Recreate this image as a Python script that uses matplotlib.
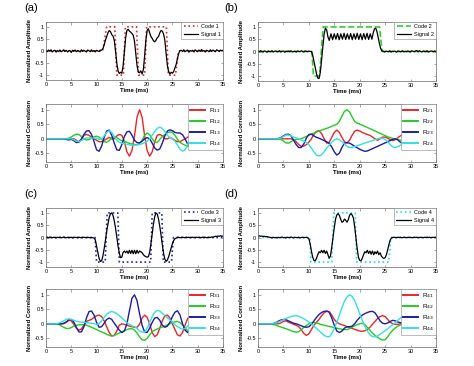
import numpy as np
import matplotlib
matplotlib.use('Agg')
import matplotlib.pyplot as plt

plt.rcParams['font.family'] = ['Liberation Sans', 'DejaVu Sans']

# ---------------- data ----------------
# codes (time in ms, amplitude)
code1_t = [0, 11.2, 12.0, 13.6, 14.0, 15.3, 15.7, 17.9, 18.3, 19.5, 19.9, 23.8, 24.2, 25.6, 26.2, 35]
code1_v = [0, 0, 1, 1, -1, -1, 1, 1, -1, -1, 1, 1, -1, -1, 0, 0]
code2_t = [0, 10.6, 10.9, 12.1, 12.8, 23.9, 24.4, 35]
code2_v = [0, 0, -1, -1, 1, 1, 0, 0]
code3_t = [0, 9.7, 10.0, 11.7, 12.1, 14.2, 14.5, 20.7, 21.0, 22.9, 23.2, 24.8, 25.2, 35]
code3_v = [0, 0, -1, -1, 1, 1, -1, -1, 1, 1, -1, -1, 0, 0]
code4_t = [0, 10.2, 10.4, 14.5, 14.9, 19.1, 19.4, 25.7, 26.1, 35]
code4_v = [0, 0, -1, -1, 1, 1, -1, -1, 0, 0]

# received signals, as segments (t_start, t_end, values)
sig1 = [
    (0, 10.75, [0.02, -0.03, 0.04, -0.01, 0.05, -0.04, 0.01, 0.03, -0.05, 0.02,
                -0.02, 0.04, -0.03, 0.0, 0.05, -0.02, 0.03, -0.04, 0.01, 0.02,
                -0.06, 0.03, -0.01, 0.04, -0.03, 0.02, 0.0, -0.04, 0.05, -0.02,
                0.03, -0.01, -0.04, 0.04, 0.01, -0.03, 0.05, -0.02, 0.02, -0.04,
                0.03, 0.0, -0.02, 0.04]),
    (11, 26.5, [0.03, 0.1, 0.25, 0.45, 0.6, 0.75, 0.85, 0.8, 0.68, 0.62,
                0.45, 0.0, -0.5, -0.82, -0.93, -0.88, -0.92, -0.6, 0.0, 0.55,
                0.85, 0.9, 0.82, 0.78, 0.72, 0.65, 0.4, -0.1, -0.6, -0.88,
                -0.9, -0.82, -0.95, -0.78, -0.2, 0.45, 0.85, 0.92, 0.75, 0.6,
                0.52, 0.42, 0.38, 0.45, 0.55, 0.6, 0.75, 0.85, 0.82, 0.7,
                0.45, -0.1, -0.6, -0.85, -0.95, -0.88, -0.92, -0.85, -0.7, -0.55,
                -0.3, -0.1, 0.02]),
    (26.75, 35, [0.03, -0.02, 0.05, -0.03, 0.01, 0.04, -0.05, 0.02, -0.01, 0.03,
                 -0.04, 0.05, 0.0, -0.03, 0.04, -0.02, 0.06, -0.01, 0.02, -0.04,
                 0.03, 0.01, -0.03, 0.05, -0.02, 0.04, 0.0, -0.03, 0.05, 0.02,
                 -0.02, 0.04, 0.01, 0.03]),
]
sig2 = [
    (0, 10.25, [0.02, -0.01, 0.03, 0.0, -0.02, 0.02, 0.01, -0.03, 0.02, 0.0,
                -0.01, 0.03, -0.02, 0.01, 0.02, -0.01, 0.0, 0.03, -0.02, 0.01,
                0.02, -0.03, 0.01, 0.0, 0.02, -0.01, 0.03, -0.02, 0.0, 0.01,
                -0.02, 0.02, 0.01, -0.01, 0.03, 0.0, -0.02, 0.02, 0.01, -0.01,
                0.02, 0.0]),
    (10.5, 14.0, [0.0, -0.15, -0.4, -0.65, -0.9, -1.08, -1.1, -0.85, -0.35, 0.2,
                  0.7, 0.95, 0.88, 0.6, 0.45]),
    (14.35, 22.4, [0.72, 0.48, 0.72, 0.5, 0.73, 0.48, 0.72, 0.5, 0.74, 0.49,
                   0.72, 0.5, 0.73, 0.48, 0.72, 0.5, 0.74, 0.49, 0.72, 0.48,
                   0.73, 0.5, 0.74, 0.49, 0.72, 0.5]),
    (22.65, 24.4, [0.75, 0.92, 0.95, 0.8, 0.55, 0.3, 0.1, 0.02]),
    (24.65, 35, [0.01, -0.02, 0.02, 0.0, -0.01, 0.03, -0.02, 0.01, 0.0, 0.02,
                 -0.03, 0.01, 0.02, -0.01, 0.0, 0.03, -0.02, 0.01, -0.01, 0.02,
                 0.0, -0.02, 0.03, 0.01, -0.01, 0.02, 0.04, -0.01, 0.03, 0.0,
                 -0.02, 0.02, 0.01, -0.01, 0.03, -0.02, 0.0, 0.02, 0.01, -0.01,
                 0.02, 0.0]),
]
sig3 = [
    (0, 9.25, [0.0, 0.01, -0.01, 0.02, 0.0, -0.01, 0.01, 0.0, -0.02, 0.01,
               0.0, 0.01, -0.01, 0.0, 0.02, 0.0, -0.01, 0.01, -0.01, 0.0,
               0.01, -0.02, 0.0, 0.01, 0.0, -0.01, 0.01, 0.0, -0.01, 0.0,
               0.01, 0.0, -0.01, 0.01, 0.0, -0.01, 0.0, -0.01]),
    (9.5, 25.75, [-0.02, -0.1, -0.35, -0.62, -0.85, -0.97, -0.95, -0.75, -0.45, -0.12,
                  0.25, 0.55, 0.82, 0.97, 1.0, 0.9, 0.68, 0.38, 0.02, -0.35,
                  -0.65, -0.82, -0.8, -0.6, -0.55, -0.62, -0.55, -0.65, -0.52, -0.65,
                  -0.52, -0.66, -0.52, -0.66, -0.52, -0.64, -0.55, -0.58, -0.62, -0.7,
                  -0.75, -0.78, -0.8, -0.78, -0.6, -0.25, 0.15, 0.55, 0.85, 1.0,
                  0.95, 0.75, 0.45, 0.1, -0.3, -0.65, -0.88, -0.97, -0.92, -0.78,
                  -0.6, -0.42, -0.25, -0.12, -0.05, -0.02]),
    (26, 35, [0.0, 0.01, -0.01, 0.0, 0.01, 0.0, -0.01, 0.01, 0.0, 0.01,
              -0.01, 0.0, 0.01, 0.0, -0.01, 0.01, 0.0, 0.01, -0.01, 0.0,
              0.01, 0.0, 0.01, -0.01, 0.0, 0.01, 0.0, 0.02, 0.01, 0.03,
              0.05, 0.04, 0.06, 0.05, 0.07, 0.05, 0.06]),
]
sig4 = [
    (0, 9.75, [0.06, 0.07, 0.05, 0.06, 0.04, 0.05, 0.03, 0.04, 0.02, 0.01,
               0.0, -0.02, 0.01, -0.01, 0.0, -0.02, 0.01, -0.01, 0.0, 0.02,
               -0.01, 0.0, -0.02, 0.01, 0.0, -0.01, 0.02, 0.0, -0.02, 0.01,
               0.0, -0.01, 0.01, -0.02, 0.0, 0.01, -0.01, 0.0, 0.01, -0.01]),
    (10, 26.5, [-0.05, -0.25, -0.55, -0.8, -0.93, -0.95, -0.85, -0.7, -0.58, -0.62,
                -0.52, -0.62, -0.52, -0.65, -0.55, -0.7, -0.85, -0.75, -0.4, 0.0,
                0.4, 0.75, 0.92, 0.97, 0.9, 0.75, 0.62, 0.65, 0.75, 0.7,
                0.62, 0.72, 0.9, 0.97, 0.92, 0.8, 0.45, 0.0, -0.45, -0.8,
                -0.93, -0.95, -0.85, -0.7, -0.58, -0.62, -0.52, -0.65, -0.55, -0.68,
                -0.55, -0.7, -0.58, -0.66, -0.55, -0.7, -0.62, -0.75, -0.82, -0.85,
                -0.82, -0.7, -0.5, -0.28, -0.1, -0.02, 0.0]),
    (26.75, 35, [0.01, 0.0, -0.01, 0.01, 0.0, 0.01, -0.01, 0.0, 0.01, 0.0,
                 -0.01, 0.01, 0.0, 0.01, -0.01, 0.0, 0.01, 0.0, 0.01, -0.01,
                 0.0, 0.01, 0.0, -0.01, 0.01, 0.0, 0.01, 0.0, 0.01, -0.01,
                 0.0, 0.01, 0.0, 0.01]),
]

# normalized correlations, sampled every 0.5 ms between (t_start, t_end)
R11 = (5.5, 32.5, [0, -0.05, -0.1, 0.0, 0.12, 0.15, 0.12, 0.05, 0, -0.05,
                   -0.1, -0.1, -0.05, 0, 0.05, 0.0, 0.0, 0.1, 0.15, 0.12,
                   -0.1, -0.45, -0.6, -0.4, 0.1, 0.75, 1.0, 0.75, 0.1, -0.4,
                   -0.6, -0.45, -0.1, 0.12, 0.15, 0.1, 0.0, 0.0, 0.05, 0.0,
                   -0.05, -0.1, -0.1, -0.05, 0, 0.05, 0.15, 0.2, 0.15, 0.0,
                   -0.12, -0.15, -0.1, -0.05, 0])
R12 = (4, 31, [0, 0.02, 0.06, 0.12, 0.16, 0.15, 0.08, 0.0, -0.04, -0.03,
               0.02, 0.07, 0.09, 0.06, -0.02, -0.1, -0.12, -0.06, 0.03, 0.07,
               0.04, -0.02, -0.07, -0.09, -0.12, -0.16, -0.18, -0.2, -0.2, -0.17,
               -0.05, 0.12, 0.2, 0.14, 0.0, -0.12, -0.12, -0.02, 0.08, 0.15,
               0.2, 0.24, 0.22, 0.12, -0.02, -0.12, -0.18, -0.22, -0.26, -0.28,
               -0.25, -0.18, -0.1, -0.04, 0])
R13 = (3.5, 31, [0, -0.02, -0.04, -0.02, -0.06, -0.13, -0.12, -0.02, 0.15, 0.27,
                 0.28, 0.15, -0.1, -0.38, -0.43, -0.25, 0.05, 0.27, 0.3, 0.12,
                 -0.15, -0.38, -0.4, -0.2, 0.08, 0.24, 0.26, 0.12, -0.05, -0.13,
                 -0.14, -0.08, 0.0, 0.04, 0.0, -0.15, -0.32, -0.39, -0.35, -0.15,
                 0.1, 0.27, 0.31, 0.28, 0.22, 0.2, 0.2, 0.14, 0.0, -0.18,
                 -0.32, -0.35, -0.22, -0.05, 0.0, 0])
R14 = (5, 31.5, [0, -0.03, -0.08, -0.1, -0.06, 0.0, 0.03, 0.03, 0.02, 0.03,
                 0.02, -0.02, 0.0, 0.1, 0.22, 0.28, 0.22, 0.08, -0.05, -0.12,
                 -0.15, -0.17, -0.19, -0.21, -0.22, -0.22, -0.21, -0.2, -0.17, -0.13,
                 -0.08, 0.0, 0.12, 0.26, 0.36, 0.4, 0.36, 0.25, 0.12, 0.04,
                 0.0, -0.08, -0.22, -0.36, -0.43, -0.38, -0.2, -0.05, 0.05, 0.1,
                 0.08, 0.03, 0.0, 0])

R21 = (6.5, 31, [0, -0.03, -0.1, -0.2, -0.26, -0.25, -0.2, -0.12, 0.0, 0.15,
                 0.26, 0.28, 0.18, 0.0, -0.15, -0.12, 0.05, 0.22, 0.3, 0.22,
                 0.05, -0.1, -0.15, -0.05, 0.12, 0.26, 0.3, 0.27, 0.22, 0.18,
                 0.15, 0.12, 0.06, 0.0, -0.05, 0.0, 0.06, 0.06, 0.02, -0.03,
                 -0.06, -0.03, 0.04, 0.1, 0.14, 0.15, 0.15, 0.1, 0.05, 0])
R22 = (4, 30, [0, -0.02, -0.08, -0.14, -0.15, -0.1, -0.04, -0.02, -0.02, 0.0,
               0.04, 0.08, 0.12, 0.16, 0.2, 0.24, 0.27, 0.3, 0.33, 0.36,
               0.39, 0.43, 0.47, 0.5, 0.6, 0.78, 0.95, 1.0, 0.93, 0.76,
               0.6, 0.54, 0.51, 0.47, 0.43, 0.39, 0.35, 0.31, 0.27, 0.23,
               0.19, 0.15, 0.11, 0.07, 0.04, 0.01, 0.0, -0.02, -0.05, -0.08,
               -0.08, -0.05, 0])
R23 = (3.5, 30.5, [0, 0.01, 0.04, 0.1, 0.15, 0.16, 0.1, -0.05, -0.2, -0.3,
                   -0.3, -0.18, 0.02, 0.15, 0.16, 0.1, 0.05, 0.02, -0.02, -0.06,
                   -0.1, -0.16, -0.28, -0.45, -0.56, -0.5, -0.3, -0.15, -0.13, -0.15,
                   -0.2, -0.26, -0.31, -0.36, -0.4, -0.43, -0.42, -0.38, -0.34, -0.3,
                   -0.26, -0.22, -0.18, -0.14, -0.1, -0.06, -0.02, 0.0, -0.04, -0.12,
                   -0.16, -0.14, -0.08, -0.03, 0])
R24 = (4, 31, [0, 0.02, 0.08, 0.13, 0.13, 0.1, 0.06, 0.03, 0.0, -0.04,
               -0.08, -0.12, -0.2, -0.32, -0.45, -0.56, -0.59, -0.55, -0.45, -0.32,
               -0.22, -0.12, -0.04, 0.0, -0.03, -0.1, -0.18, -0.26, -0.3, -0.3,
               -0.27, -0.24, -0.21, -0.18, -0.15, -0.12, -0.09, -0.06, -0.03, 0.0,
               0.02, 0.02, -0.02, -0.1, -0.2, -0.28, -0.3, -0.27, -0.22, -0.18,
               -0.14, -0.1, -0.06, -0.03, 0])

R31 = (3.5, 32.5, [0.0, 0.05, 0.12, 0.1, -0.02, -0.15, -0.22, -0.18, -0.05, 0.08,
                   0.12, 0.15, 0.22, 0.28, 0.3, 0.25, 0.1, -0.1, -0.3, -0.42,
                   -0.4, -0.25, -0.05, 0.0, -0.02, -0.05, -0.08, -0.1, -0.12, -0.12,
                   -0.02, 0.2, 0.3, 0.22, 0.0, -0.3, -0.44, -0.38, -0.15, 0.1,
                   0.28, 0.3, 0.2, 0.0, -0.2, -0.38, -0.42, -0.3, -0.05, 0.18,
                   0.27, 0.22, 0.08, -0.05, -0.13, -0.14, -0.1, -0.04, 0])
R32 = (2, 31, [0, -0.02, -0.07, -0.12, -0.16, -0.16, -0.13, -0.08, -0.05, -0.04,
               -0.03, -0.03, -0.05, -0.08, -0.12, -0.16, -0.2, -0.24, -0.28, -0.32,
               -0.36, -0.4, -0.42, -0.4, -0.36, -0.32, -0.28, -0.24, -0.2, -0.17,
               -0.17, -0.22, -0.32, -0.45, -0.55, -0.57, -0.5, -0.38, -0.27, -0.22,
               -0.18, -0.14, -0.11, -0.08, -0.04, 0.0, 0.04, 0.07, 0.08, 0.04,
               -0.04, -0.14, -0.24, -0.3, -0.28, -0.18, -0.08, -0.02, 0])
R33 = (3, 32, [0, 0.02, 0.06, 0.14, 0.15, 0.06, -0.12, -0.28, -0.28, -0.1,
               0.2, 0.42, 0.44, 0.3, 0.05, -0.12, -0.1, 0.02, 0.15, 0.2,
               0.15, 0.02, -0.1, -0.22, -0.3, -0.25, 0.0, 0.45, 0.88, 1.0,
               0.8, 0.35, -0.05, -0.28, -0.3, -0.15, 0.05, 0.2, 0.22, 0.12,
               -0.05, -0.12, -0.08, 0.05, 0.25, 0.4, 0.45, 0.3, 0.0, -0.22,
               -0.3, -0.22, -0.05, 0.1, 0.15, 0.1, 0.04, 0.02, 0])
R34 = (2, 31, [0, 0.02, 0.06, 0.1, 0.15, 0.17, 0.15, 0.12, 0.09, 0.07,
               0.06, 0.05, 0.04, 0.03, 0.02, 0.0, -0.02, 0.0, 0.1, 0.22,
               0.33, 0.4, 0.42, 0.4, 0.35, 0.28, 0.2, 0.12, 0.04, -0.02,
               -0.07, -0.1, -0.16, -0.24, -0.29, -0.28, -0.15, 0.05, 0.25, 0.4,
               0.46, 0.44, 0.36, 0.28, 0.2, 0.14, 0.06, -0.03, -0.1, -0.15,
               -0.18, -0.16, -0.08, 0.0, 0.05, 0.06, 0.05, 0.03, 0])

R41 = (4, 33, [0, 0.03, 0.08, 0.1, 0.06, 0.02, -0.02, -0.05, -0.1, -0.2,
               -0.33, -0.4, -0.35, -0.2, -0.05, 0.05, 0.15, 0.28, 0.38, 0.43,
               0.42, 0.3, 0.15, 0.05, 0.0, -0.03, -0.06, -0.1, -0.13, -0.16,
               -0.19, -0.22, -0.25, -0.26, -0.24, -0.2, -0.12, -0.02, 0.08, 0.18,
               0.25, 0.28, 0.25, 0.15, 0.05, 0.0, -0.02, -0.02, 0.0, 0.02,
               0.02, 0.0, -0.03, -0.08, -0.12, -0.12, -0.08, -0.03, 0])
R42 = (2.5, 29, [0, -0.02, -0.05, -0.08, -0.11, -0.14, -0.17, -0.2, -0.24, -0.27,
                 -0.29, -0.27, -0.2, -0.13, -0.06, 0.0, 0.03, 0.05, 0.03, 0.0,
                 -0.03, -0.05, -0.07, -0.09, -0.11, -0.13, -0.15, -0.17, -0.19, -0.2,
                 -0.2, -0.17, -0.12, -0.07, -0.03, 0.0, 0.02, -0.03, -0.12, -0.22,
                 -0.32, -0.4, -0.47, -0.52, -0.56, -0.55, -0.45, -0.32, -0.22, -0.14,
                 -0.08, -0.04, -0.01, 0])
R43 = (2.5, 30, [0, 0.01, 0.04, 0.09, 0.13, 0.15, 0.14, 0.1, 0.06, 0.02,
                 0.0, -0.03, -0.07, -0.1, -0.12, -0.1, -0.02, 0.1, 0.22, 0.32,
                 0.39, 0.43, 0.44, 0.4, 0.2, -0.05, -0.25, -0.3, -0.25, -0.15,
                 -0.1, -0.1, -0.08, 0.0, 0.12, 0.22, 0.3, 0.35, 0.39, 0.42,
                 0.43, 0.38, 0.25, 0.1, 0.02, 0.0, 0.03, 0.08, 0.12, 0.1,
                 0.06, 0.04, 0.04, 0.02, 0.0, 0])
R44 = (2.5, 33, [0, 0.01, 0.03, 0.06, 0.1, 0.14, 0.18, 0.22, 0.25, 0.27,
                 0.28, 0.26, 0.22, 0.17, 0.12, 0.06, 0.0, -0.08, -0.16, -0.24,
                 -0.32, -0.4, -0.44, -0.45, -0.35, -0.15, 0.05, 0.3, 0.55, 0.78,
                 0.93, 1.0, 0.95, 0.8, 0.58, 0.35, 0.12, -0.08, -0.25, -0.38,
                 -0.44, -0.45, -0.42, -0.36, -0.3, -0.24, -0.17, -0.1, -0.03, 0.04,
                 0.12, 0.2, 0.25, 0.28, 0.27, 0.24, 0.18, 0.12, 0.07, 0.03,
                 0.01, 0])

corr_colors = ['#e8262a', '#22cc22', '#1c1ca8', '#33e0e0']
code_styles = [('#e8262a', ':'), ('#33cc33', '--'), ('#2020c8', ':'), ('#22dddd', ':')]

panels = [
    ('(a)', code1_t, code1_v, sig1, [R11, R12, R13, R14], '1'),
    ('(b)', code2_t, code2_v, sig2, [R21, R22, R23, R24], '2'),
    ('(c)', code3_t, code3_v, sig3, [R31, R32, R33, R34], '3'),
    ('(d)', code4_t, code4_v, sig4, [R41, R42, R43, R44], '4'),
]

# axes boxes in pixels: (left, top, right, bottom) for signal plot and correlation plot
W, H = 474, 366
boxes = [
    ((46, 22, 223, 80), (46, 104, 223, 162)),
    ((258, 22, 436, 81), (258, 104, 436, 162)),
    ((46, 208, 223, 267), (46, 289, 223, 347)),
    ((258, 208, 436, 267), (258, 289, 436, 347)),
]
letter_pos = [(31, 8), (231, 8), (31, 194), (231, 194)]


def curve(start, end, vals):
    return np.linspace(start, end, len(vals)), np.array(vals)


def signal_xy(segs):
    ts, vs = [], []
    for s, e, v in segs:
        t, y = curve(s, e, v)
        ts.append(t)
        vs.append(y)
    return np.concatenate(ts), np.concatenate(vs)


def make_ax(fig, box):
    l, t, r, b = box
    ax = fig.add_axes([l / W, 1 - b / H, (r - l) / W, (b - t) / H])
    for sp in ax.spines.values():
        sp.set_linewidth(0.5)
        sp.set_color('#666666')
    ax.tick_params(direction='in', length=1.8, width=0.4, labelsize=4, pad=1.5,
                   color='#666666', top=True, right=True)
    ax.set_xlim(0, 35)
    ax.set_xticks(range(0, 36, 5))
    ax.set_xlabel('Time (ms)', fontsize=4.3, fontweight='bold', labelpad=1)
    return ax


fig = plt.figure(figsize=(W / 100, H / 100), dpi=100)

for k, (letter, ct, cv, sig, corrs, n) in enumerate(panels):
    box_top, box_bot = boxes[k]
    col, ls = code_styles[k]

    ax = make_ax(fig, box_top)
    ax.plot(ct, cv, color=col, linestyle=ls, lw=1.2, label='Code ' + n)
    st, sv = signal_xy(sig)
    ax.plot(st, sv, color='black', lw=0.9, label='Signal ' + n)
    ax.set_ylim(-1.2, 1.2)
    ax.set_yticks([-1, -0.5, 0, 0.5, 1])
    ax.set_yticklabels(['-1', '-0.5', '0', '0.5', '1'])
    ax.set_ylabel('Normalized Amplitude', fontsize=4.3, fontweight='bold', labelpad=2)
    leg = ax.legend(loc='upper right', fontsize=4, handlelength=2.6, borderaxespad=0,
                    fancybox=False, framealpha=1, labelspacing=0.5, borderpad=0.4,
                    handletextpad=0.5)
    leg.get_frame().set_linewidth(0.4)
    leg.get_frame().set_edgecolor('#888888')

    ax2 = make_ax(fig, box_bot)
    for j, (R, c) in enumerate(zip(corrs, corr_colors)):
        t, y = curve(*R)
        t = np.concatenate([[0], t])
        y = np.concatenate([[0], y])
        ax2.plot(t, y, color=c, lw=1.0, label='R$_{%s%d}$' % (n, j + 1))
    ax2.set_ylim(-0.8, 1.2)
    ax2.set_yticks([-0.5, 0, 0.5, 1])
    ax2.set_yticklabels(['-0.5', '0', '0.5', '1'])
    ax2.set_ylabel('Normalized Correlation', fontsize=4.3, fontweight='bold', labelpad=2)
    leg2 = ax2.legend(loc='upper right', fontsize=4.6, handlelength=2.4, borderaxespad=0,
                      fancybox=False, framealpha=1, labelspacing=0.35, borderpad=0.3,
                      handletextpad=0.6)
    leg2.get_frame().set_linewidth(0.4)
    leg2.get_frame().set_edgecolor('#888888')
    for h in leg2.legend_handles:
        h.set_linewidth(1.4)

    lx, ly = letter_pos[k]
    fig.text(lx / W, 1 - ly / H, letter, fontsize=8, ha='center', va='center')

fig.savefig('out.png', dpi=100)
